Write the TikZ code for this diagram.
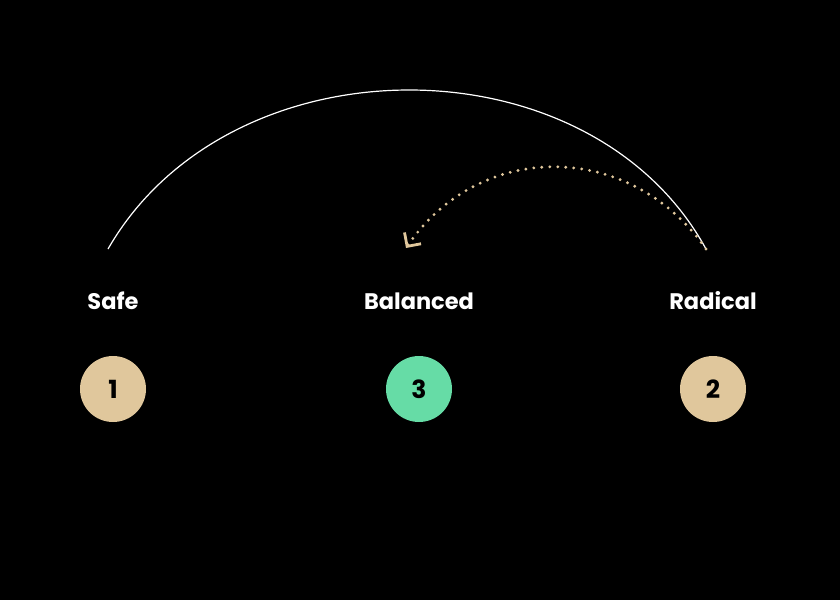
\documentclass[tikz,border=0pt]{standalone}
\usepackage{fontspec}
\setmainfont{Poppins}
\usetikzlibrary{arrows.meta}
\definecolor{tan}{HTML}{E0C79C}
\definecolor{mint}{HTML}{66DCA6}
\tikzset{
  num/.style={circle,minimum size=66pt,inner sep=0pt,text=black,font=\fontsize{25}{28}\selectfont\bfseries},
  lbl/.style={text=white,font=\fontsize{22.5}{26}\selectfont\bfseries}
}
\begin{document}
\begin{tikzpicture}[x=1pt,y=-1pt]
\fill[black] (0,0) rectangle (840,600);
\useasboundingbox (0,0) rectangle (840,600);
\node[num,fill=tan] (n1) at (113,389) {1};
\node[num,fill=mint] (n3) at (419,389) {3};
\node[num,fill=tan] (n2) at (713,389) {2};
\node[lbl] (l1) at (113,301) {Safe};
\node[lbl] (l3) at (419,301) {Balanced};
\node[lbl] (l2) at (713,301) {Radical};
\coordinate (a) at (108,249);
\coordinate (b) at (706,249);
\coordinate (t) at (406,248);
\draw[white,line width=1.2pt] (a) .. controls (230,37) and (590,37) .. (b);
\draw[tan,line width=3.2pt,line cap=round,dash pattern=on 0pt off 8pt,-{Straight Barb[length=10pt,width=20pt,line width=2.8pt,line cap=butt]}] (b) .. controls (630,140) and (480,140) .. (t);
\end{tikzpicture}
\end{document}
